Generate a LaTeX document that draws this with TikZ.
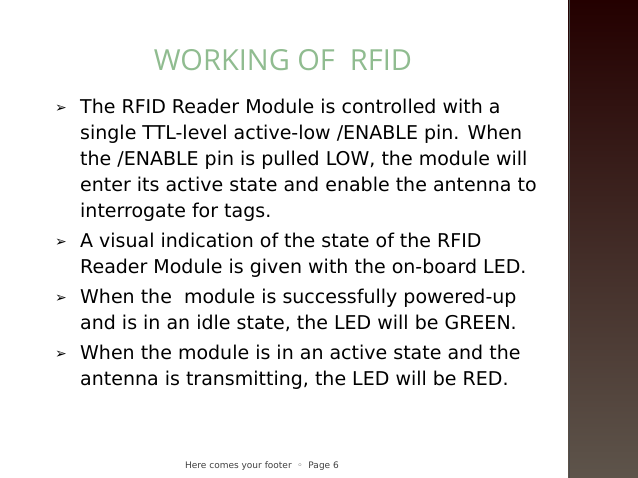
\documentclass[tikz,border=0pt]{standalone}
\usepackage{fontspec}
\setmainfont{DejaVu Sans}
\newfontfamily\titlefont{Open Sans}
\begin{document}
\begin{tikzpicture}[x=1pt,y=-1pt,
  txt/.style={anchor=base west,inner sep=0pt,font=\fontsize{19}{22}\selectfont,text=black},
  bul/.style={anchor=base west,inner sep=0pt,font=\fontsize{14}{16}\selectfont}]
\useasboundingbox (0,0) rectangle (638,478);
\fill[white] (0,0) rectangle (638,478);
\shade[top color=black!80!red!70!black, bottom color=black!70!white!85!brown] (568,0) rectangle (638,478);
\draw[black!70,line width=1pt] (569,0) -- (569,478);
\node[inner sep=0pt,font=\titlefont\fontsize{29}{32}\selectfont,text=green!25!gray!70!white] (title) at (283,60) {WORKING OF\ \ RFID};
\node[txt] (l1) at (80,114) {The RFID Reader Module is controlled with a};
\node[txt] (l2) at (80,140) {single TTL-level active-low /ENABLE pin. When};
\node[txt] (l3) at (80,166) {the /ENABLE pin is pulled LOW, the module will};
\node[txt] (l4) at (80,192) {enter its active state and enable the antenna to};
\node[txt] (l5) at (80,218) {interrogate for tags.};
\node[txt] (l6) at (80,248) {A visual indication of the state of the RFID};
\node[txt] (l7) at (80,274) {Reader Module is given with the on-board LED.};
\node[txt] (l8) at (80,304) {When the\ \ module is successfully powered-up};
\node[txt] (l9) at (80,330) {and is in an idle state, the LED will be GREEN.};
\node[txt] (l10) at (80,360) {When the module is in an active state and the};
\node[txt] (l11) at (80,386) {antenna is transmitting, the LED will be RED.};
\foreach \y [count=\i] in {113,247,303,359}
  \node[bul] (b\i) at (55,\y) {➢};
\node[inner sep=0pt,font=\fontsize{9}{10}\selectfont,text=black!75] (foot) at (262,466) {Here comes your footer\ \ ◦\ \ Page 6};
\end{tikzpicture}
\end{document}
